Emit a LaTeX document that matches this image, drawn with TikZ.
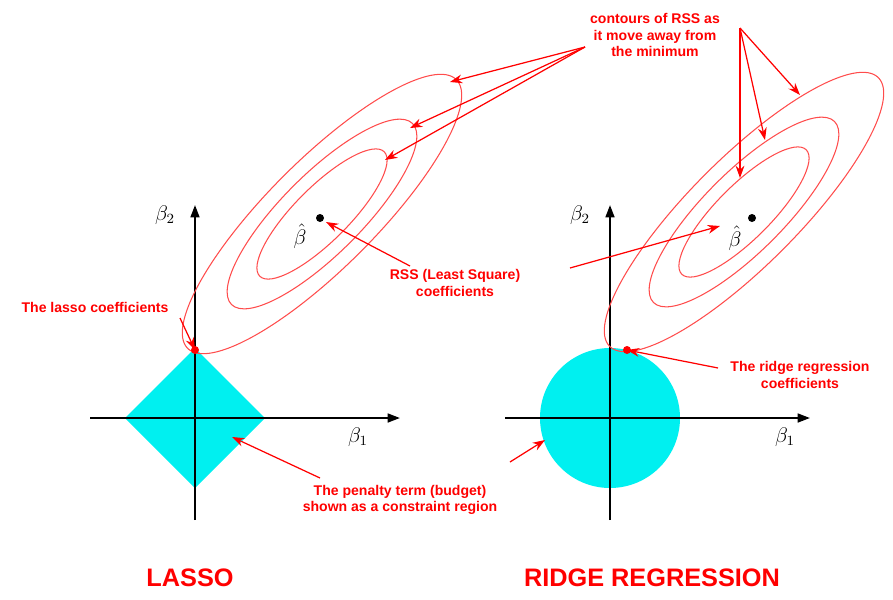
\documentclass[tikz,border=0pt]{standalone}
\usepackage{fontspec}
\setmainfont{Liberation Sans}
\usepackage{amsmath}
\usetikzlibrary{positioning,arrows.meta}
\definecolor{budgetcyan}{RGB}{0,240,240}
\tikzset{
  axis/.style={black,line width=1.2pt,-{Triangle[length=7pt,width=5pt]}},
  contour/.style={red!70,line width=0.6pt},
  note/.style={red,font=\bfseries\footnotesize,align=center,inner sep=1pt},
  pointer/.style={red,line width=0.7pt,-{Stealth[length=7pt,width=5pt]}},
  title/.style={red,font=\bfseries\Large},
  budget/.style={fill=budgetcyan,draw=none}
}
\begin{document}
\begin{tikzpicture}[x=0.02cm,y=-0.02cm]
\useasboundingbox (0,0) rectangle (893,599);
% lasso panel
\fill[budget] (195,348) -- (265,418) -- (195,488) -- (125,418) -- cycle;
\draw[axis] (195,520) -- (195,205);
\draw[axis] (90,418) -- (400,418);
\begin{scope}[shift={(322,214)},rotate=45]
  \draw[contour] (0,0) ellipse (190 and 54);
  \draw[contour] (0,0) ellipse (128 and 40);
  \draw[contour] (0,0) ellipse (88 and 27);
\end{scope}
\fill[red] (195,350) circle (4) coordinate (lassopt);
\fill[black] (320,218) circle (4);
\node[font=\large] (bhatl) at (300,236) {$\hat{\beta}$};
\node[font=\large] (b2l) at (165,215) {$\beta_2$};
\node[font=\large] (b1l) at (358,437) {$\beta_1$};
% ridge panel
\fill[budget] (610,418) circle (70);
\draw[axis] (610,520) -- (610,205);
\draw[axis] (505,418) -- (810,418);
\begin{scope}[shift={(744,212)},rotate=45]
  \draw[contour] (0,0) ellipse (190 and 54);
  \draw[contour] (0,0) ellipse (128 and 40);
  \draw[contour] (0,0) ellipse (88 and 27);
\end{scope}
\fill[red] (627,350) circle (4) coordinate (ridgept);
\fill[black] (752,218) circle (4);
\node[font=\large] (bhatr) at (735,238) {$\hat{\beta}$};
\node[font=\large] (b2r) at (580,215) {$\beta_2$};
\node[font=\large] (b1r) at (785,437) {$\beta_1$};
% notes
\node[note] (contours) at (655,35) {contours of RSS as\\it move away from\\the minimum};
\node[note] (rss) at (455,283) {RSS (Least Square)\\coefficients};
\node[note] (lasso) at (95,307) {The lasso coefficients};
\node[note] (ridge) at (800,375) {The ridge regression\\coefficients};
\node[note] (penalty) at (400,500) {The penalty term (budget)\\shown as a constraint region};
\node[title] (lassot) at (190,578) {LASSO};
\node[title] (ridget) at (652,578) {RIDGE REGRESSION};
% pointers
\coordinate (c1) at (450,82); \coordinate (c2) at (410,128); \coordinate (c3) at (385,160);
\coordinate (c4) at (800,95); \coordinate (c5) at (765,140); \coordinate (c6) at (740,178);
\foreach \c in {c1,c2,c3} \draw[pointer] (585,47) -- (\c);
\foreach \c in {c4,c5,c6} \draw[pointer] (740,28) -- (\c);
\draw[pointer] (410,266) -- (326,222);
\draw[pointer] (570,268) -- (720,226);
\draw[pointer] (180,318) -- (lassopt);
\draw[pointer] (718,368) -- (ridgept);
\draw[pointer] (320,478) -- (232,437);
\draw[pointer] (510,462) -- (545,440);
\end{tikzpicture}
\end{document}
